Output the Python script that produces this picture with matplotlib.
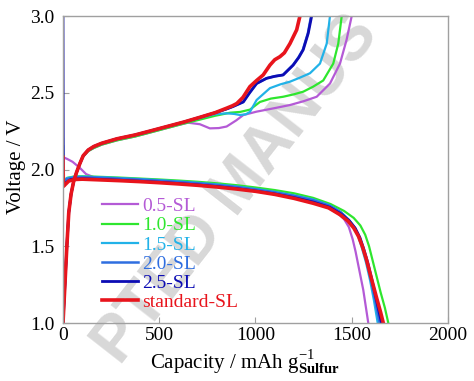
import matplotlib
matplotlib.use("Agg")
import matplotlib.pyplot as plt

plt.rcParams['font.family'] = ['Liberation Serif', 'DejaVu Serif']
plt.rcParams['mathtext.fontset'] = 'custom'
plt.rcParams['mathtext.rm'] = 'Liberation Serif'
plt.rcParams['mathtext.it'] = 'Liberation Serif:italic'
plt.rcParams['mathtext.bf'] = 'Liberation Serif:bold'

labels = ['0.5-SL', '1.0-SL', '1.5-SL', '2.0-SL', '2.5-SL', 'standard-SL']
colors = ['#b45ad6', '#2ee62e', '#22b2e8', '#2f6ee0', '#0c0cb4', '#e8141c']
widths = [1.6, 1.6, 1.6, 1.8, 2.0, 2.6]

# discharge curves (capacity mAh/g, voltage V)
dis_cap_05 = [0, 20, 50, 88, 120, 160, 200, 300, 400, 500, 600, 700, 800, 900, 1000, 1100, 1200, 1300, 1380, 1430, 1460, 1485, 1505, 1520, 1540, 1560, 1586]
dis_v_05 = [2.08, 2.07, 2.05, 2.01, 1.97, 1.95, 1.947, 1.942, 1.936, 1.929, 1.921, 1.912, 1.901, 1.888, 1.872, 1.852, 1.826, 1.788, 1.748, 1.712, 1.677, 1.625, 1.545, 1.465, 1.34, 1.215, 1.0]

dis_cap_10 = [0, 3, 20, 60, 100, 200, 300, 400, 500, 600, 700, 800, 900, 1000, 1100, 1200, 1300, 1390, 1460, 1510, 1545, 1570, 1590, 1610, 1630, 1650, 1672, 1690]
dis_v_10 = [2.1, 1.92, 1.945, 1.955, 1.956, 1.952, 1.947, 1.941, 1.935, 1.928, 1.92, 1.91, 1.898, 1.883, 1.866, 1.845, 1.815, 1.775, 1.73, 1.685, 1.635, 1.575, 1.5, 1.4, 1.3, 1.2, 1.1, 1.0]

dis_cap_15 = [0, 3, 20, 60, 100, 200, 300, 400, 500, 600, 700, 800, 900, 1000, 1100, 1200, 1300, 1380, 1440, 1480, 1510, 1535, 1555, 1575, 1595, 1615, 1635]
dis_v_15 = [2.2, 1.92, 1.944, 1.953, 1.954, 1.95, 1.944, 1.938, 1.931, 1.923, 1.914, 1.903, 1.89, 1.874, 1.855, 1.832, 1.805, 1.77, 1.725, 1.675, 1.625, 1.56, 1.48, 1.39, 1.28, 1.15, 1.0]

dis_cap_20 = [0, 3, 20, 60, 100, 200, 300, 400, 500, 600, 700, 800, 900, 1000, 1100, 1200, 1300, 1385, 1445, 1485, 1515, 1540, 1560, 1580, 1600, 1622, 1645]
dis_v_20 = [2.15, 1.91, 1.938, 1.948, 1.95, 1.946, 1.94, 1.934, 1.927, 1.919, 1.91, 1.899, 1.886, 1.87, 1.851, 1.828, 1.8, 1.764, 1.72, 1.672, 1.622, 1.56, 1.48, 1.39, 1.28, 1.15, 1.0]

dis_cap_25 = [0, 2, 10, 40, 100, 200, 300, 400, 500, 600, 700, 800, 900, 1000, 1100, 1200, 1300, 1385, 1445, 1488, 1518, 1543, 1563, 1585, 1607, 1630, 1655]
dis_v_25 = [3.0, 1.9, 1.91, 1.935, 1.94, 1.936, 1.93, 1.924, 1.917, 1.909, 1.9, 1.889, 1.876, 1.86, 1.841, 1.817, 1.788, 1.754, 1.71, 1.665, 1.618, 1.555, 1.48, 1.385, 1.27, 1.14, 1.0]

dis_cap_std = [0, 2, 10, 30, 60, 100, 200, 300, 400, 500, 600, 700, 800, 900, 1000, 1100, 1200, 1300, 1380, 1440, 1480, 1510, 1535, 1555, 1575, 1600, 1630, 1650, 1664]
dis_v_std = [2.08, 1.89, 1.9, 1.925, 1.935, 1.937, 1.932, 1.927, 1.921, 1.914, 1.906, 1.897, 1.886, 1.873, 1.858, 1.838, 1.812, 1.78, 1.75, 1.705, 1.665, 1.62, 1.565, 1.5, 1.42, 1.3, 1.16, 1.07, 1.0]

# charge curves
chg_cap_05 = [0, 8, 20, 30, 42, 55, 70, 88, 105, 131, 160, 201, 280, 374, 450, 540, 600, 650, 711, 763, 810, 850, 900, 937, 1006, 1100, 1179, 1250, 1318, 1387, 1439, 1473, 1500]
chg_v_05 = [1.0, 1.2, 1.5, 1.72, 1.84, 1.92, 1.98, 2.04, 2.085, 2.12, 2.14, 2.162, 2.19, 2.215, 2.24, 2.27, 2.29, 2.305, 2.295, 2.268, 2.27, 2.28, 2.32, 2.355, 2.377, 2.4, 2.42, 2.445, 2.474, 2.56, 2.69, 2.844, 3.0]

chg_cap_10 = [0, 8, 20, 30, 42, 55, 70, 88, 105, 131, 160, 201, 280, 374, 450, 540, 630, 711, 790, 868, 920, 971, 1023, 1080, 1144, 1200, 1248, 1300, 1352, 1404, 1430, 1448]
chg_v_10 = [1.0, 1.2, 1.5, 1.72, 1.84, 1.92, 1.98, 2.04, 2.085, 2.12, 2.14, 2.162, 2.19, 2.215, 2.24, 2.27, 2.3, 2.325, 2.35, 2.37, 2.375, 2.39, 2.44, 2.462, 2.474, 2.49, 2.507, 2.54, 2.58, 2.69, 2.82, 3.0]

chg_cap_15 = [0, 8, 20, 30, 42, 55, 70, 88, 105, 131, 160, 201, 280, 374, 450, 540, 630, 711, 790, 850, 890, 919, 950, 971, 1006, 1075, 1130, 1179, 1230, 1283, 1335, 1370, 1387]
chg_v_15 = [1.0, 1.2, 1.5, 1.72, 1.84, 1.92, 1.98, 2.04, 2.088, 2.124, 2.146, 2.168, 2.197, 2.222, 2.247, 2.277, 2.307, 2.335, 2.36, 2.366, 2.362, 2.355, 2.36, 2.375, 2.453, 2.53, 2.555, 2.572, 2.598, 2.627, 2.69, 2.82, 3.0]

chg_cap_20 = [0, 8, 20, 30, 42, 55, 70, 88, 105, 131, 160, 201, 280, 374, 450, 540, 630, 711, 790, 851, 881, 908, 935, 968, 1004, 1056, 1098, 1142, 1194, 1223, 1246, 1272, 1289]
chg_v_20 = [1.0, 1.2, 1.5, 1.72, 1.84, 1.92, 1.98, 2.04, 2.09, 2.127, 2.15, 2.171, 2.2, 2.225, 2.25, 2.28, 2.31, 2.34, 2.37, 2.395, 2.41, 2.425, 2.44, 2.5, 2.56, 2.594, 2.607, 2.616, 2.68, 2.73, 2.78, 2.887, 3.0]

chg_cap_25 = [0, 8, 20, 30, 42, 55, 70, 88, 105, 131, 160, 201, 280, 374, 450, 540, 630, 711, 790, 851, 883, 910, 937, 970, 1006, 1058, 1100, 1144, 1196, 1225, 1248, 1274, 1292]
chg_v_25 = [1.0, 1.2, 1.5, 1.72, 1.84, 1.92, 1.98, 2.04, 2.09, 2.127, 2.15, 2.171, 2.2, 2.225, 2.25, 2.28, 2.31, 2.34, 2.37, 2.395, 2.41, 2.425, 2.44, 2.5, 2.56, 2.594, 2.607, 2.616, 2.68, 2.73, 2.78, 2.887, 3.0]

chg_cap_std = [0, 8, 20, 30, 42, 55, 70, 88, 105, 131, 160, 201, 280, 374, 450, 540, 630, 711, 790, 851, 880, 903, 935, 971, 1006, 1040, 1075, 1100, 1127, 1150, 1179, 1214, 1231]
chg_v_std = [1.0, 1.2, 1.5, 1.72, 1.84, 1.92, 1.98, 2.04, 2.09, 2.127, 2.15, 2.171, 2.2, 2.225, 2.25, 2.28, 2.31, 2.34, 2.37, 2.4, 2.415, 2.43, 2.47, 2.54, 2.58, 2.616, 2.68, 2.715, 2.735, 2.76, 2.82, 2.91, 3.0]

discharge = [(dis_cap_05, dis_v_05), (dis_cap_10, dis_v_10), (dis_cap_15, dis_v_15),
             (dis_cap_20, dis_v_20), (dis_cap_25, dis_v_25), (dis_cap_std, dis_v_std)]
charge = [(chg_cap_05, chg_v_05), (chg_cap_10, chg_v_10), (chg_cap_15, chg_v_15),
          (chg_cap_20, chg_v_20), (chg_cap_25, chg_v_25), (chg_cap_std, chg_v_std)]

fig = plt.figure(figsize=(4.74, 3.81), dpi=100)
ax = fig.add_axes([0.1329, 0.1522, 0.8122, 0.8058])
ax.set_zorder(1)
ax.set_facecolor('none')

# watermark of the source image (visible part only)
fig.text(0.5, 0.5, 'PTED MANUS', rotation=52, color='#d8d8d8',
         fontsize=46, fontweight='bold', family='Liberation Sans',
         ha='center', va='center', rotation_mode='anchor', zorder=0)

handles = []
for (dc, dv), (cc, cv), lab, col, lw in zip(discharge, charge, labels, colors, widths):
    ln, = ax.plot(dc, dv, color=col, lw=lw, label=lab, solid_joinstyle='round')
    ax.plot(cc, cv, color=col, lw=lw, solid_joinstyle='round')
    handles.append(ln)

ax.set_xlim(0, 2000)
ax.set_ylim(1.0, 3.0)
ax.set_xticks([0, 500, 1000, 1500, 2000])
ax.set_yticks([1.0, 1.5, 2.0, 2.5, 3.0])
ax.set_yticklabels(['1.0', '1.5', '2.0', '2.5', '3.0'])

for s in ax.spines.values():
    s.set_color('#a0a0a0')
    s.set_linewidth(1.0)
ax.tick_params(direction='in', length=4, width=0.8, color='#a0a0a0',
               labelsize=14, labelcolor='black')
ax.tick_params(axis='x', pad=3)
ax.tick_params(axis='y', pad=6)

ax.set_xlabel(r'Capacity / mAh g$^{-1}_{\mathbf{Sulfur}}$', fontsize=15)
ax.set_ylabel('Voltage / V', fontsize=15)
ax.xaxis.set_label_coords(0.473, -0.085)
ax.yaxis.set_label_coords(-0.097, 0.51)

ax.legend(handles=handles, loc='upper left', bbox_to_anchor=(0.075, 0.44),
          frameon=False, fontsize=14, labelcolor='linecolor',
          handlelength=1.85, handletextpad=0.26, labelspacing=0.08, borderpad=0)

fig.savefig('out.png', dpi=100)
